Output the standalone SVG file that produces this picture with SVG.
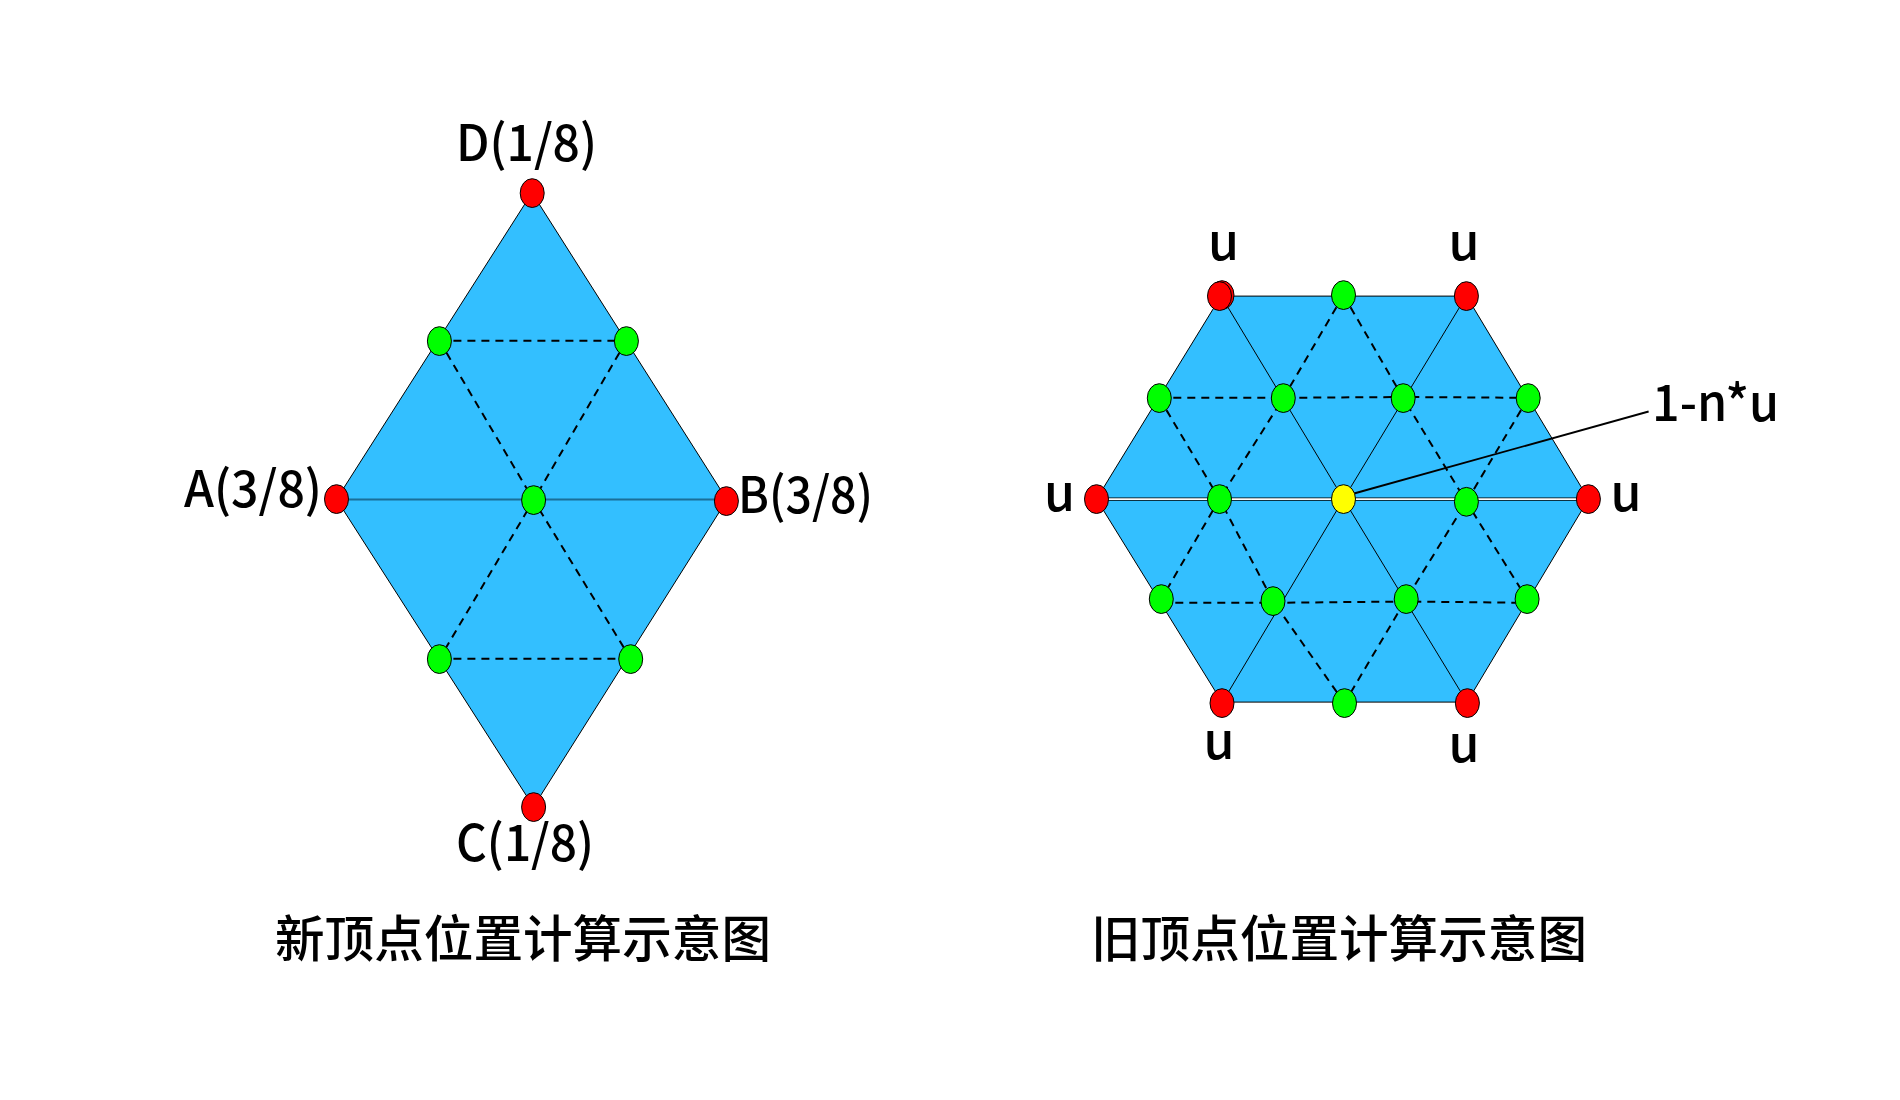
<svg xmlns="http://www.w3.org/2000/svg" width="1900" height="1100" viewBox="0 0 1900 1100">
<style>
.face{fill:#33bfff;stroke:#000;stroke-width:1}
.solid{stroke:#000;stroke-width:1;fill:none}
.dash{stroke:#000;stroke-width:2;stroke-dasharray:8 6;fill:none}
.r{fill:#f00}.g{fill:#0f0}.y{fill:#ff0}
ellipse{stroke:#000;stroke-width:1;rx:12px;ry:14.4px}
text{font-family:"Noto Sans CJK SC","Noto Sans",sans-serif;font-size:50px;font-weight:500;fill:#000}
</style>
<rect width="1900" height="1100" fill="#fff"/>
<g transform="translate(0 0.8)">
<polygon class="face" points="532,192 336.5,498.5 533.5,806 727,499"/>
<polygon class="face" points="1221,295.3 1466.5,295.3 1588.5,498.3 1467,701.3 1222,701.3 1096.5,498.3"/>
<g id="connectors">
<line x1="336.5" y1="498.7" x2="726.5" y2="498.7" stroke="#1a6f98" stroke-width="1.8"/>
<path class="dash" d="M439.4 340H626.4M439.4 658H630.7M439.4 340L533.6 499.3L630.7 658M626.4 340L533.6 499.3L439.4 658"/>
<path class="solid" d="M1221 295L1343.5 498.3L1222 702M1466.5 295L1343.5 498.3L1467.4 702"/>
<line x1="1096.5" y1="498.3" x2="1588.4" y2="498.3" stroke="#000" stroke-width="3.4"/>
<line x1="1096.5" y1="498.3" x2="1588.4" y2="498.3" stroke="#fff" stroke-width="1.8"/>
<path class="dash" d="M1159.3 397H1283.3L1403.2 396.2L1528.2 397M1161.3 602H1273L1406.2 600.7L1527.1 602M1343.5 294.3L1283.3 397.3L1219.5 498.3L1161.3 598.3M1343.5 294.3L1403.2 397.3L1466.4 501L1527.1 598.3M1159.3 397.3L1219.5 498.3L1273 600.3L1344.5 702.3M1528.2 397.3L1466.4 501L1406.2 598.3L1344.5 702.3"/>
<line x1="1354" y1="492.7" x2="1648.6" y2="410.7" stroke="#000" stroke-width="1.9"/>
</g>
<g id="node-D"><ellipse class="r" cx="532.2" cy="192.3" rx="12" ry="14.4"/><text x="456" y="160.3" textLength="141" lengthAdjust="spacingAndGlyphs">D(1/8)</text></g>
<g id="node-A"><ellipse class="r" cx="336.5" cy="498.3" rx="12" ry="14.4"/><text x="184" y="506.7" textLength="138" lengthAdjust="spacingAndGlyphs">A(3/8)</text></g>
<g id="node-B"><ellipse class="r" cx="726.4" cy="500.3" rx="12" ry="14.4"/><text x="738" y="512.7" textLength="135" lengthAdjust="spacingAndGlyphs">B(3/8)</text></g>
<g id="node-C"><ellipse class="r" cx="533.6" cy="806.3" rx="12" ry="14.4"/><text x="456" y="860" textLength="138" lengthAdjust="spacingAndGlyphs">C(1/8)</text></g>
<g id="node-L1"><ellipse class="g" cx="439.4" cy="340.3" rx="12" ry="14.4"/></g>
<g id="node-L2"><ellipse class="g" cx="626.4" cy="340.3" rx="12" ry="14.4"/></g>
<g id="node-L3"><ellipse class="g" cx="533.6" cy="499.3" rx="12" ry="14.4"/></g>
<g id="node-L4"><ellipse class="g" cx="439.4" cy="658.3" rx="12" ry="14.4"/></g>
<g id="node-L5"><ellipse class="g" cx="630.7" cy="658.3" rx="12" ry="14.4"/></g>
<g id="node-R1"><ellipse class="r" cx="1222" cy="294.3" rx="12" ry="14.4"/><ellipse class="r" cx="1219.5" cy="295.3" rx="12" ry="14.4"/><text x="1208" y="259.3">u</text></g>
<g id="node-R2"><ellipse class="g" cx="1343.5" cy="294.3" rx="12" ry="14.4"/></g>
<g id="node-R3"><ellipse class="r" cx="1466.4" cy="295.3" rx="12" ry="14.4"/><text x="1448.5" y="259.3">u</text></g>
<g id="node-R4"><ellipse class="g" cx="1159.3" cy="397.3" rx="12" ry="14.4"/></g>
<g id="node-R5"><ellipse class="g" cx="1283.3" cy="397.3" rx="12" ry="14.4"/></g>
<g id="node-R6"><ellipse class="g" cx="1403.2" cy="397.3" rx="12" ry="14.4"/></g>
<g id="node-R7"><ellipse class="g" cx="1528.2" cy="397.3" rx="12" ry="14.4"/></g>
<g id="node-R8"><ellipse class="r" cx="1096.5" cy="498.3" rx="12" ry="14.4"/><text x="1044" y="510">u</text></g>
<g id="node-R9"><ellipse class="g" cx="1219.5" cy="498.3" rx="12" ry="14.4"/></g>
<g id="node-R10"><ellipse class="y" cx="1343.5" cy="498.3" rx="12" ry="14.4"/></g>
<g id="node-R11"><ellipse class="g" cx="1466.4" cy="501" rx="12" ry="14.4"/></g>
<g id="node-R12"><ellipse class="r" cx="1588.4" cy="498.3" rx="12" ry="14.4"/><text x="1610.5" y="510">u</text></g>
<g id="node-R13"><ellipse class="g" cx="1161.3" cy="598.3" rx="12" ry="14.4"/></g>
<g id="node-R14"><ellipse class="g" cx="1273" cy="600.3" rx="12" ry="14.4"/></g>
<g id="node-R15"><ellipse class="g" cx="1406.2" cy="598.3" rx="12" ry="14.4"/></g>
<g id="node-R16"><ellipse class="g" cx="1527.1" cy="598.3" rx="12" ry="14.4"/></g>
<g id="node-R17"><ellipse class="r" cx="1222" cy="702.3" rx="12" ry="14.4"/><text x="1203.5" y="758.3">u</text></g>
<g id="node-R18"><ellipse class="g" cx="1344.5" cy="702.3" rx="12" ry="14.4"/></g>
<g id="node-R19"><ellipse class="r" cx="1467.4" cy="702.3" rx="12" ry="14.4"/><text x="1448.5" y="761">u</text></g>
<text x="1652" y="420.7" textLength="127" lengthAdjust="spacingAndGlyphs">1-n*u</text>
<text x="275" y="956" textLength="496" lengthAdjust="spacingAndGlyphs">新顶点位置计算示意图</text>
<text x="1091" y="956" textLength="496" lengthAdjust="spacingAndGlyphs">旧顶点位置计算示意图</text>
</g>
</svg>
